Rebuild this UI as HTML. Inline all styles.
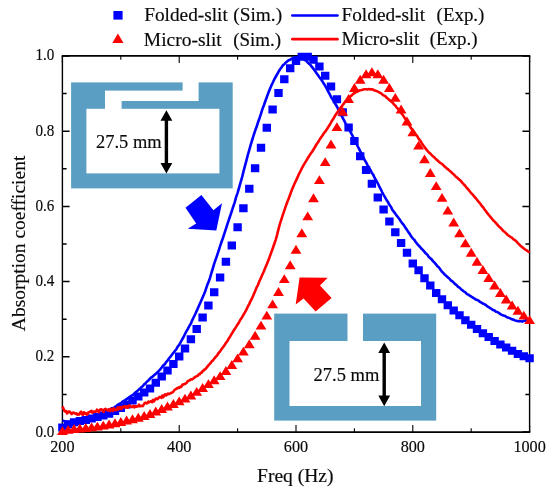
<!DOCTYPE html>
<html lang="en"><head><meta charset="utf-8"><title>Absorption coefficient</title>
<style>html,body{margin:0;padding:0;background:#fff}svg{display:block}text{font-family:"Liberation Serif",serif;fill:#0a0a0a;stroke:#0a0a0a;stroke-width:0.16px}</style>
</head><body>
<svg width="550" height="494" viewBox="0 0 550 494">
<rect x="0" y="0" width="550" height="494" fill="#fff"/>
<g id="inset1">
<rect x="71.1" y="82.4" width="161.6" height="106" fill="#5a9fc3"/>
<rect x="86.4" y="108.8" width="133" height="64.6" fill="#fff"/>
<rect x="105" y="90.6" width="93.6" height="10.4" fill="#fff"/>
<rect x="105" y="100.5" width="16.6" height="8.8" fill="#fff"/>
<rect x="182.6" y="82" width="16" height="9" fill="#fff"/>
</g>
<g id="inset2">
<rect x="274.2" y="313.6" width="162" height="107" fill="#5a9fc3"/>
<rect x="289.5" y="341" width="131.5" height="65" fill="#fff"/>
<rect x="347.5" y="313" width="15.5" height="28.5" fill="#fff"/>
</g>
<polygon fill="#000" points="166.4,110.2 172.3,120.8 168.1,120.8 168.1,163.0 172.3,163.0 166.4,173.6 160.5,163.0 164.7,163.0 164.7,120.8 160.5,120.8"/>
<polygon fill="#000" points="384.2,342.4 390.1,353.0 385.9,353.0 385.9,395.6 390.1,395.6 384.2,406.2 378.3,395.6 382.5,395.6 382.5,353.0 378.3,353.0"/>
<text x="96" y="148" font-size="19" textLength="65.6" lengthAdjust="spacingAndGlyphs">27.5 mm</text>
<text x="313.6" y="380.6" font-size="19" textLength="65.8" lengthAdjust="spacingAndGlyphs">27.5 mm</text>
<path d="M61.7 55.9H530.3M61.7 432.1H530.3" stroke="#000" stroke-width="1.8" fill="none"/>
<path d="M62.4 55.9V432.1M529.6 55.9V432.1" stroke="#000" stroke-width="1.4" fill="none"/>
<path d="M62.40 432.1v-7M62.40 55.9v7M120.80 432.1v-3.8M120.80 55.9v3.8M179.20 432.1v-7M179.20 55.9v7M237.60 432.1v-3.8M237.60 55.9v3.8M296.00 432.1v-7M296.00 55.9v7M354.40 432.1v-3.8M354.40 55.9v3.8M412.80 432.1v-7M412.80 55.9v7M471.20 432.1v-3.8M471.20 55.9v3.8M529.60 432.1v-7M529.60 55.9v7" stroke="#000" stroke-width="1.1" fill="none"/>
<path d="M62.4 432.10h7.2M529.6 432.10h-7.2M62.4 394.48h4.2M529.6 394.48h-4.2M62.4 356.86h7.2M529.6 356.86h-7.2M62.4 319.24h4.2M529.6 319.24h-4.2M62.4 281.62h7.2M529.6 281.62h-7.2M62.4 244.00h4.2M529.6 244.00h-4.2M62.4 206.38h7.2M529.6 206.38h-7.2M62.4 168.76h4.2M529.6 168.76h-4.2M62.4 131.14h7.2M529.6 131.14h-7.2M62.4 93.52h4.2M529.6 93.52h-4.2M62.4 55.90h7.2M529.6 55.90h-7.2" stroke="#000" stroke-width="1.5" fill="none"/>
<text x="62.4" y="451.9" font-size="16.2" text-anchor="middle">200</text>
<text x="179.2" y="451.9" font-size="16.2" text-anchor="middle">400</text>
<text x="296.0" y="451.9" font-size="16.2" text-anchor="middle">600</text>
<text x="412.8" y="451.9" font-size="16.2" text-anchor="middle">800</text>
<text x="529.6" y="451.9" font-size="16.2" text-anchor="middle">1000</text>
<text x="54.4" y="436.6" font-size="16.4" text-anchor="end" textLength="18.9" lengthAdjust="spacingAndGlyphs">0.0</text>
<text x="54.4" y="361.4" font-size="16.4" text-anchor="end" textLength="18.9" lengthAdjust="spacingAndGlyphs">0.2</text>
<text x="54.4" y="286.1" font-size="16.4" text-anchor="end" textLength="18.9" lengthAdjust="spacingAndGlyphs">0.4</text>
<text x="54.4" y="210.9" font-size="16.4" text-anchor="end" textLength="18.9" lengthAdjust="spacingAndGlyphs">0.6</text>
<text x="54.4" y="135.6" font-size="16.4" text-anchor="end" textLength="18.9" lengthAdjust="spacingAndGlyphs">0.8</text>
<text x="54.4" y="60.4" font-size="16.4" text-anchor="end" textLength="18.9" lengthAdjust="spacingAndGlyphs">1.0</text>
<text x="295.3" y="482" font-size="19" text-anchor="middle" textLength="76.5" lengthAdjust="spacingAndGlyphs">Freq (Hz)</text>
<text transform="translate(24.8 243.4) rotate(-90)" font-size="19.4" text-anchor="middle" textLength="175.5" lengthAdjust="spacingAndGlyphs">Absorption coefficient</text>
<polygon fill="#0000ff" points="185.5,207.8 201.4,195.1 213.4,210.3 222,203.2 216.3,230.4 187.7,228.8 196.2,223.4"/>
<polygon fill="#ff0000" points="299.6,277.5 327.7,277.7 320,285.5 331.6,298.1 315.6,311.6 303.6,298.5 295.7,304.4"/>
<path d="M58.2 423.6h8.4v8h-8.4zM64.0 420.2h8.4v8h-8.4zM69.9 418.3h8.4v8h-8.4zM75.7 417.1h8.4v8h-8.4zM81.6 416.1h8.4v8h-8.4zM87.4 414.6h8.4v8h-8.4zM93.2 413.1h8.4v8h-8.4zM99.1 411.5h8.4v8h-8.4zM104.9 409.7h8.4v8h-8.4zM110.8 407.1h8.4v8h-8.4zM116.6 404.0h8.4v8h-8.4zM122.4 400.4h8.4v8h-8.4zM128.3 396.5h8.4v8h-8.4zM134.1 392.6h8.4v8h-8.4zM140.0 388.6h8.4v8h-8.4zM145.8 384.5h8.4v8h-8.4zM151.6 378.8h8.4v8h-8.4zM157.5 372.4h8.4v8h-8.4zM163.3 366.4h8.4v8h-8.4zM169.2 360.0h8.4v8h-8.4zM175.0 352.5h8.4v8h-8.4zM180.8 344.6h8.4v8h-8.4zM186.7 335.2h8.4v8h-8.4zM192.5 325.0h8.4v8h-8.4zM198.4 313.6h8.4v8h-8.4zM204.2 301.4h8.4v8h-8.4zM210.0 288.2h8.4v8h-8.4zM215.9 273.6h8.4v8h-8.4zM221.7 257.8h8.4v8h-8.4zM227.6 241.5h8.4v8h-8.4zM233.4 223.2h8.4v8h-8.4zM239.2 204.3h8.4v8h-8.4zM245.1 184.7h8.4v8h-8.4zM250.9 164.2h8.4v8h-8.4zM256.8 143.7h8.4v8h-8.4zM262.6 123.8h8.4v8h-8.4zM268.4 105.5h8.4v8h-8.4zM274.3 89.1h8.4v8h-8.4zM280.1 75.2h8.4v8h-8.4zM286.0 64.3h8.4v8h-8.4zM291.8 57.0h8.4v8h-8.4zM297.6 52.8h8.4v8h-8.4zM303.5 52.8h8.4v8h-8.4zM309.3 55.7h8.4v8h-8.4zM315.2 62.4h8.4v8h-8.4zM321.0 71.8h8.4v8h-8.4zM326.8 82.4h8.4v8h-8.4zM332.7 95.2h8.4v8h-8.4zM338.5 108.3h8.4v8h-8.4zM344.4 123.4h8.4v8h-8.4zM350.2 136.9h8.4v8h-8.4zM356.0 152.3h8.4v8h-8.4zM361.9 166.0h8.4v8h-8.4zM367.7 179.7h8.4v8h-8.4zM373.6 193.4h8.4v8h-8.4zM379.4 205.4h8.4v8h-8.4zM385.2 217.4h8.4v8h-8.4zM391.1 228.2h8.4v8h-8.4zM396.9 238.9h8.4v8h-8.4zM402.8 248.7h8.4v8h-8.4zM408.6 259.6h8.4v8h-8.4zM414.4 266.3h8.4v8h-8.4zM420.3 274.2h8.4v8h-8.4zM426.1 281.4h8.4v8h-8.4zM432.0 288.9h8.4v8h-8.4zM437.8 295.3h8.4v8h-8.4zM443.6 301.2h8.4v8h-8.4zM449.5 306.4h8.4v8h-8.4zM455.3 311.3h8.4v8h-8.4zM461.2 316.2h8.4v8h-8.4zM467.0 320.7h8.4v8h-8.4zM472.8 325.0h8.4v8h-8.4zM478.7 329.2h8.4v8h-8.4zM484.5 333.1h8.4v8h-8.4zM490.4 336.9h8.4v8h-8.4zM496.2 340.4h8.4v8h-8.4zM502.0 343.6h8.4v8h-8.4zM507.9 346.8h8.4v8h-8.4zM513.7 349.9h8.4v8h-8.4zM519.6 352.3h8.4v8h-8.4zM525.4 354.2h8.4v8h-8.4z" fill="#0000ff"/>
<polyline fill="none" stroke="#0000ff" stroke-width="2.6" stroke-linejoin="round" points="62.4,420.5 63.9,421.1 65.3,421.5 66.8,422.1 68.2,421.9 69.7,422.0 71.2,421.9 72.6,421.8 74.1,421.3 75.5,421.0 77.0,420.7 78.5,419.8 79.9,419.3 81.4,418.8 82.8,418.7 84.3,418.4 85.8,418.0 87.2,417.8 88.7,416.9 90.1,416.9 91.6,416.5 93.1,415.9 94.5,415.1 96.0,414.9 97.4,414.6 98.9,414.1 100.4,413.3 101.8,412.9 103.3,412.4 104.7,411.7 106.2,410.9 107.7,410.1 109.1,410.0 110.6,409.2 112.0,408.5 113.5,408.0 115.0,406.9 116.4,406.0 117.9,404.7 119.3,404.0 120.8,403.3 122.3,401.8 123.7,401.0 125.2,400.3 126.6,399.1 128.1,398.1 129.6,397.1 131.0,395.9 132.5,395.3 133.9,393.9 135.4,392.5 136.9,391.4 138.3,390.1 139.8,388.8 141.2,387.3 142.7,386.2 144.2,384.3 145.6,383.2 147.1,381.5 148.5,380.4 150.0,378.6 151.5,377.3 152.9,376.4 154.4,374.8 155.8,373.9 157.3,372.3 158.8,370.8 160.2,369.4 161.7,367.5 163.1,365.5 164.6,364.4 166.1,362.2 167.5,360.6 169.0,358.4 170.4,356.8 171.9,354.8 173.4,352.9 174.8,351.0 176.3,349.3 177.7,346.6 179.2,344.9 180.7,342.2 182.1,339.5 183.6,337.0 185.0,334.0 186.5,331.1 188.0,328.6 189.4,325.9 190.9,323.5 192.3,320.1 193.8,317.0 195.3,314.0 196.7,310.9 198.2,307.4 199.6,304.3 201.1,300.9 202.6,297.4 204.0,294.2 205.5,290.4 206.9,286.1 208.4,282.3 209.9,278.2 211.3,273.4 212.8,268.5 214.2,263.7 215.7,259.4 217.2,255.1 218.6,250.8 220.1,246.2 221.5,242.0 223.0,237.7 224.5,233.2 225.9,228.8 227.4,224.1 228.8,220.0 230.3,215.5 231.8,211.1 233.2,206.7 234.7,202.4 236.1,197.2 237.6,192.8 239.1,187.6 240.5,182.7 242.0,177.7 243.4,171.9 244.9,166.2 246.4,160.6 247.8,155.0 249.3,149.9 250.7,144.9 252.2,140.0 253.7,135.0 255.1,130.8 256.6,126.8 258.0,122.3 259.5,118.2 261.0,113.7 262.4,109.1 263.9,105.2 265.3,101.2 266.8,97.1 268.3,93.0 269.7,89.5 271.2,85.9 272.6,83.0 274.1,79.7 275.6,77.0 277.0,74.5 278.5,71.8 279.9,69.5 281.4,67.5 282.9,65.3 284.3,64.2 285.8,62.6 287.2,61.4 288.7,60.3 290.2,59.7 291.6,58.8 293.1,58.2 294.5,57.4 296.0,57.5 297.5,57.3 298.9,57.6 300.4,58.0 301.8,57.7 303.3,58.8 304.8,60.0 306.2,60.7 307.7,62.5 309.1,63.7 310.6,65.1 312.1,67.1 313.5,68.9 315.0,70.9 316.4,72.9 317.9,75.1 319.4,77.2 320.8,79.1 322.3,81.1 323.7,83.5 325.2,85.8 326.7,88.5 328.1,91.4 329.6,94.0 331.0,96.9 332.5,99.2 334.0,101.7 335.4,104.0 336.9,106.5 338.3,109.3 339.8,112.1 341.3,115.2 342.7,117.8 344.2,120.7 345.6,123.5 347.1,126.4 348.6,128.5 350.0,131.1 351.5,133.8 352.9,136.5 354.4,139.3 355.9,142.3 357.3,145.5 358.8,148.4 360.2,151.2 361.7,154.0 363.2,156.8 364.6,159.8 366.1,162.4 367.5,165.2 369.0,167.9 370.5,170.0 371.9,173.0 373.4,175.1 374.8,178.2 376.3,180.7 377.8,183.3 379.2,186.3 380.7,189.1 382.1,192.0 383.6,194.8 385.1,197.4 386.5,200.0 388.0,202.1 389.4,204.8 390.9,206.8 392.4,209.9 393.8,211.6 395.3,213.6 396.7,215.7 398.2,217.5 399.7,219.6 401.1,221.8 402.6,223.7 404.0,225.3 405.5,227.9 407.0,229.9 408.4,232.1 409.9,234.1 411.3,236.5 412.8,238.3 414.3,239.8 415.7,242.0 417.2,243.9 418.6,245.5 420.1,247.0 421.6,248.8 423.0,250.1 424.5,251.9 425.9,253.6 427.4,254.8 428.9,257.1 430.3,258.3 431.8,259.6 433.2,261.4 434.7,262.8 436.2,264.6 437.6,266.4 439.1,267.6 440.5,269.8 442.0,271.7 443.5,273.1 444.9,274.8 446.4,276.0 447.8,277.4 449.3,278.5 450.8,280.3 452.2,281.2 453.7,282.6 455.1,284.2 456.6,285.1 458.1,286.8 459.5,287.7 461.0,289.2 462.4,290.3 463.9,291.5 465.4,292.4 466.8,294.0 468.3,294.6 469.7,295.7 471.2,296.5 472.7,297.5 474.1,298.3 475.6,299.4 477.0,299.8 478.5,300.6 480.0,301.9 481.4,302.7 482.9,303.5 484.3,304.2 485.8,305.0 487.3,306.4 488.7,307.2 490.2,308.1 491.6,309.0 493.1,310.1 494.6,310.6 496.0,311.8 497.5,312.1 498.9,313.0 500.4,314.1 501.9,314.9 503.3,315.5 504.8,315.7 506.2,316.8 507.7,317.6 509.2,317.9 510.6,318.6 512.1,319.4 513.5,319.6 515.0,320.4 516.5,320.8 517.9,321.2 519.4,321.2 520.8,321.3 522.3,321.6 523.8,320.8 525.2,320.8 526.7,320.2 528.1,320.2 529.6,319.2"/>
<path d="M62.4 426.2l5.4 8.9h-10.8zM68.2 424.9l5.4 8.9h-10.8zM74.1 424.1l5.4 8.9h-10.8zM79.9 423.5l5.4 8.9h-10.8zM85.8 423.0l5.4 8.9h-10.8zM91.6 422.4l5.4 8.9h-10.8zM97.4 421.7l5.4 8.9h-10.8zM103.3 420.7l5.4 8.9h-10.8zM109.1 419.6l5.4 8.9h-10.8zM115.0 418.3l5.4 8.9h-10.8zM120.8 417.0l5.4 8.9h-10.8zM126.6 415.6l5.4 8.9h-10.8zM132.5 414.3l5.4 8.9h-10.8zM138.3 412.8l5.4 8.9h-10.8zM144.2 411.1l5.4 8.9h-10.8zM150.0 409.1l5.4 8.9h-10.8zM155.8 406.6l5.4 8.9h-10.8zM161.7 404.0l5.4 8.9h-10.8zM167.5 401.5l5.4 8.9h-10.8zM173.4 399.0l5.4 8.9h-10.8zM179.2 396.4l5.4 8.9h-10.8zM185.0 393.7l5.4 8.9h-10.8zM190.9 390.5l5.4 8.9h-10.8zM196.7 386.9l5.4 8.9h-10.8zM202.6 383.1l5.4 8.9h-10.8zM208.4 379.2l5.4 8.9h-10.8zM214.2 375.3l5.4 8.9h-10.8zM220.1 371.2l5.4 8.9h-10.8zM225.9 366.0l5.4 8.9h-10.8zM231.8 360.0l5.4 8.9h-10.8zM237.6 353.4l5.4 8.9h-10.8zM243.4 346.7l5.4 8.9h-10.8zM249.3 339.3l5.4 8.9h-10.8zM255.1 330.8l5.4 8.9h-10.8zM261.0 320.7l5.4 8.9h-10.8zM266.8 310.7l5.4 8.9h-10.8zM272.6 299.4l5.4 8.9h-10.8zM278.5 287.0l5.4 8.9h-10.8zM284.3 274.2l5.4 8.9h-10.8zM290.2 260.3l5.4 8.9h-10.8zM296.0 244.8l5.4 8.9h-10.8zM301.8 228.3l5.4 8.9h-10.8zM307.7 211.4l5.4 8.9h-10.8zM313.5 193.3l5.4 8.9h-10.8zM319.4 175.2l5.4 8.9h-10.8zM325.2 157.2l5.4 8.9h-10.8zM331.0 139.5l5.4 8.9h-10.8zM336.9 122.2l5.4 8.9h-10.8zM342.7 106.8l5.4 8.9h-10.8zM348.6 94.0l5.4 8.9h-10.8zM354.4 83.1l5.4 8.9h-10.8zM360.2 74.8l5.4 8.9h-10.8zM366.1 69.3l5.4 8.9h-10.8zM371.9 67.3l5.4 8.9h-10.8zM377.8 69.3l5.4 8.9h-10.8zM383.6 74.8l5.4 8.9h-10.8zM389.4 83.1l5.4 8.9h-10.8zM395.3 92.9l5.4 8.9h-10.8zM401.1 104.5l5.4 8.9h-10.8zM407.0 116.6l5.4 8.9h-10.8zM412.8 127.4l5.4 8.9h-10.8zM418.6 140.7l5.4 8.9h-10.8zM424.5 154.4l5.4 8.9h-10.8zM430.3 168.0l5.4 8.9h-10.8zM436.2 181.2l5.4 8.9h-10.8zM442.0 192.9l5.4 8.9h-10.8zM447.8 205.7l5.4 8.9h-10.8zM453.7 217.5l5.4 8.9h-10.8zM459.5 228.4l5.4 8.9h-10.8zM465.4 238.4l5.4 8.9h-10.8zM471.2 247.8l5.4 8.9h-10.8zM477.0 256.8l5.4 8.9h-10.8zM482.9 265.1l5.4 8.9h-10.8zM488.7 273.0l5.4 8.9h-10.8zM494.6 280.5l5.4 8.9h-10.8zM500.4 288.1l5.4 8.9h-10.8zM506.2 294.5l5.4 8.9h-10.8zM512.1 300.5l5.4 8.9h-10.8zM517.9 305.8l5.4 8.9h-10.8zM523.8 310.7l5.4 8.9h-10.8zM529.6 315.2l5.4 8.9h-10.8z" fill="#ff0000"/>
<polyline fill="none" stroke="#ff0000" stroke-width="2.6" stroke-linejoin="round" points="62.4,406.4 63.3,408.2 64.3,410.8 65.2,411.6 66.1,411.0 67.1,413.4 68.0,412.4 68.9,411.5 69.9,411.8 70.8,413.1 71.7,414.0 72.7,412.8 73.6,412.6 74.5,413.2 75.5,413.8 76.4,413.4 77.4,414.7 78.3,414.0 79.2,414.5 80.2,412.6 81.1,411.6 82.0,414.4 83.0,414.8 83.9,412.3 84.8,413.6 85.8,413.1 86.7,414.6 87.6,414.1 88.6,412.2 89.5,412.3 90.4,411.3 91.4,410.8 92.3,412.6 93.2,411.5 94.2,411.9 95.1,411.5 96.0,411.7 97.0,409.6 97.9,410.6 98.8,412.1 99.8,410.2 100.7,409.2 101.6,409.3 102.6,410.3 103.5,412.0 104.4,409.4 105.4,408.9 106.3,409.4 107.3,410.4 108.2,410.4 109.1,409.1 110.1,411.1 111.0,408.8 111.9,409.6 112.9,410.9 113.8,408.3 114.7,409.5 115.7,410.3 116.6,409.9 117.5,407.5 118.5,409.4 119.4,407.3 120.3,407.0 121.3,409.1 122.2,407.8 123.1,406.5 124.1,407.3 125.0,406.0 125.9,407.4 126.9,406.5 127.8,407.7 128.7,405.6 129.7,405.6 130.6,406.3 131.5,407.0 132.5,406.9 133.4,406.0 134.3,407.4 135.3,406.1 136.2,406.7 137.2,406.4 138.1,406.3 139.0,404.6 140.0,406.4 140.9,406.0 141.8,405.9 142.8,406.1 143.7,404.6 144.6,403.1 145.6,402.6 146.5,403.4 147.4,403.2 148.4,401.6 149.3,402.2 150.2,401.7 151.2,401.1 152.1,402.2 153.0,399.9 154.0,401.4 154.9,399.9 155.8,398.5 156.8,399.0 157.7,399.1 158.6,397.7 159.6,396.9 160.5,397.1 161.4,397.9 162.4,395.6 163.3,397.1 164.2,395.2 165.2,394.3 166.1,395.5 167.1,394.3 168.0,393.5 168.9,394.1 169.9,393.5 170.8,393.3 171.7,392.6 172.7,392.2 173.6,391.3 174.5,389.9 175.5,389.4 176.4,388.7 177.3,388.3 178.3,387.5 179.2,388.0 180.1,386.7 181.1,387.0 182.0,385.6 182.9,384.4 183.9,384.4 184.8,384.0 185.7,383.5 186.7,382.7 187.6,381.3 188.5,380.7 189.5,380.5 190.4,379.6 191.3,379.3 192.3,379.4 193.2,378.6 194.2,377.7 195.1,377.1 196.0,376.5 197.0,376.1 197.9,375.8 198.8,374.2 199.8,374.3 200.7,372.7 201.6,372.8 202.6,371.1 203.5,370.8 204.4,369.5 205.4,369.2 206.3,367.9 207.2,367.0 208.2,365.6 209.1,364.6 210.0,363.7 211.0,362.4 211.9,361.2 212.8,360.6 213.8,359.2 214.2,358.6 215.7,356.9 217.2,355.3 218.6,353.0 220.1,351.4 221.5,349.1 223.0,347.2 224.5,345.3 225.9,342.8 227.4,341.1 228.8,338.4 230.3,336.2 231.8,333.7 233.2,331.3 234.7,329.1 236.1,326.9 237.6,324.4 239.1,322.2 240.5,319.5 242.0,317.4 243.4,314.9 244.9,312.4 246.4,309.6 247.8,306.7 249.3,303.9 250.7,300.8 252.2,297.9 253.7,294.5 255.1,291.2 256.6,287.6 258.0,284.7 259.5,281.0 261.0,277.7 262.4,274.5 263.9,271.3 265.3,267.8 266.8,264.2 268.3,260.6 269.7,256.8 271.2,252.6 272.6,248.8 274.1,244.5 275.6,240.1 277.0,235.1 278.5,229.1 279.9,223.9 281.4,219.3 282.9,214.6 284.3,210.6 285.8,206.2 287.2,202.2 288.7,198.5 290.2,194.5 291.6,190.6 293.1,187.0 294.5,183.7 296.0,180.6 297.5,177.4 298.9,174.1 300.4,171.3 301.8,168.4 303.3,165.7 304.8,163.2 306.2,160.9 307.7,158.3 309.1,156.1 310.6,153.8 312.1,151.8 313.5,149.5 315.0,147.0 316.4,144.5 317.9,142.5 319.4,139.9 320.8,137.7 322.3,135.7 323.7,133.5 325.2,131.7 326.7,129.6 328.1,127.3 329.6,125.1 331.0,122.5 332.5,119.9 334.0,117.7 335.4,115.1 336.9,113.0 338.3,111.1 339.8,108.8 341.3,106.9 342.7,105.0 344.2,103.1 345.6,101.2 347.1,99.7 348.6,98.4 350.0,96.6 351.5,95.6 352.9,94.2 354.4,93.2 355.9,92.0 357.3,91.7 358.8,90.7 360.2,90.2 361.7,90.0 363.2,89.5 364.6,89.3 366.1,89.3 367.5,89.5 369.0,89.1 370.5,89.4 371.9,89.3 373.4,89.8 374.8,90.6 376.3,90.9 377.8,91.6 379.2,92.3 380.7,93.1 382.1,94.2 383.6,95.4 385.1,96.0 386.5,97.5 388.0,98.7 389.4,100.1 390.9,101.2 392.4,102.5 393.8,104.2 395.3,105.6 396.7,107.5 398.2,109.2 399.7,111.1 401.1,112.9 402.6,114.8 404.0,116.9 405.5,119.2 407.0,121.2 408.4,123.9 409.9,126.3 411.3,128.6 412.8,130.7 414.3,132.4 415.7,134.5 417.2,136.2 418.6,138.6 420.1,140.4 421.6,142.9 423.0,145.0 424.5,147.1 425.9,148.9 427.4,150.8 428.9,152.4 430.3,153.6 431.8,155.2 433.2,156.4 434.7,157.8 436.2,159.3 437.6,160.5 439.1,161.9 440.5,163.0 442.0,164.0 443.5,165.3 444.9,166.8 446.4,168.1 447.8,169.1 449.3,170.4 450.8,171.7 452.2,173.2 453.7,174.3 455.1,175.8 456.6,177.3 458.1,178.6 459.5,179.8 461.0,181.1 462.4,182.8 463.9,184.5 465.4,186.0 466.8,187.9 468.3,189.5 469.7,191.3 471.2,193.2 472.7,194.7 474.1,196.4 475.6,198.0 477.0,199.8 478.5,201.7 480.0,203.3 481.4,205.3 482.9,207.1 484.3,209.1 485.8,211.0 487.3,213.2 488.7,214.8 490.2,216.7 491.6,218.3 493.1,220.2 494.6,221.6 496.0,223.1 497.5,224.8 498.9,226.5 500.4,227.7 501.9,229.3 503.3,230.9 504.8,232.1 506.2,233.4 507.7,235.0 509.2,236.0 510.6,237.0 512.1,237.9 513.5,239.3 515.0,240.2 516.5,241.5 517.9,243.1 519.4,244.6 520.8,246.0 522.3,247.2 523.8,248.4 525.2,249.6 526.7,250.4 528.1,251.4 529.6,252.5"/>
<rect x="113.4" y="11" width="9.2" height="8.6" fill="#0000ff"/>
<polygon points="117.9,33.4 123.5,43 112.3,43" fill="#ff0000"/>
<path d="M292.4 15.5H337.4" stroke="#0000ff" stroke-width="2.7" stroke-linecap="round"/>
<path d="M292.4 39.2H337.4" stroke="#ff0000" stroke-width="2.7" stroke-linecap="round"/>
<text x="144.2" y="21" font-size="19" textLength="83.6" lengthAdjust="spacingAndGlyphs">Folded-slit</text>
<text x="233.3" y="21" font-size="19" textLength="48.8" lengthAdjust="spacingAndGlyphs">(Sim.)</text>
<text x="143.8" y="45.5" font-size="19" textLength="78" lengthAdjust="spacingAndGlyphs">Micro-slit</text>
<text x="233.2" y="45.5" font-size="19" textLength="48" lengthAdjust="spacingAndGlyphs">(Sim.)</text>
<text x="341.5" y="21" font-size="19" textLength="83.6" lengthAdjust="spacingAndGlyphs">Folded-slit</text>
<text x="436.6" y="21" font-size="19" textLength="47.8" lengthAdjust="spacingAndGlyphs">(Exp.)</text>
<text x="341.4" y="45.4" font-size="19" textLength="78" lengthAdjust="spacingAndGlyphs">Micro-slit</text>
<text x="429.8" y="45.4" font-size="19" textLength="47.8" lengthAdjust="spacingAndGlyphs">(Exp.)</text>
</svg></body></html>
